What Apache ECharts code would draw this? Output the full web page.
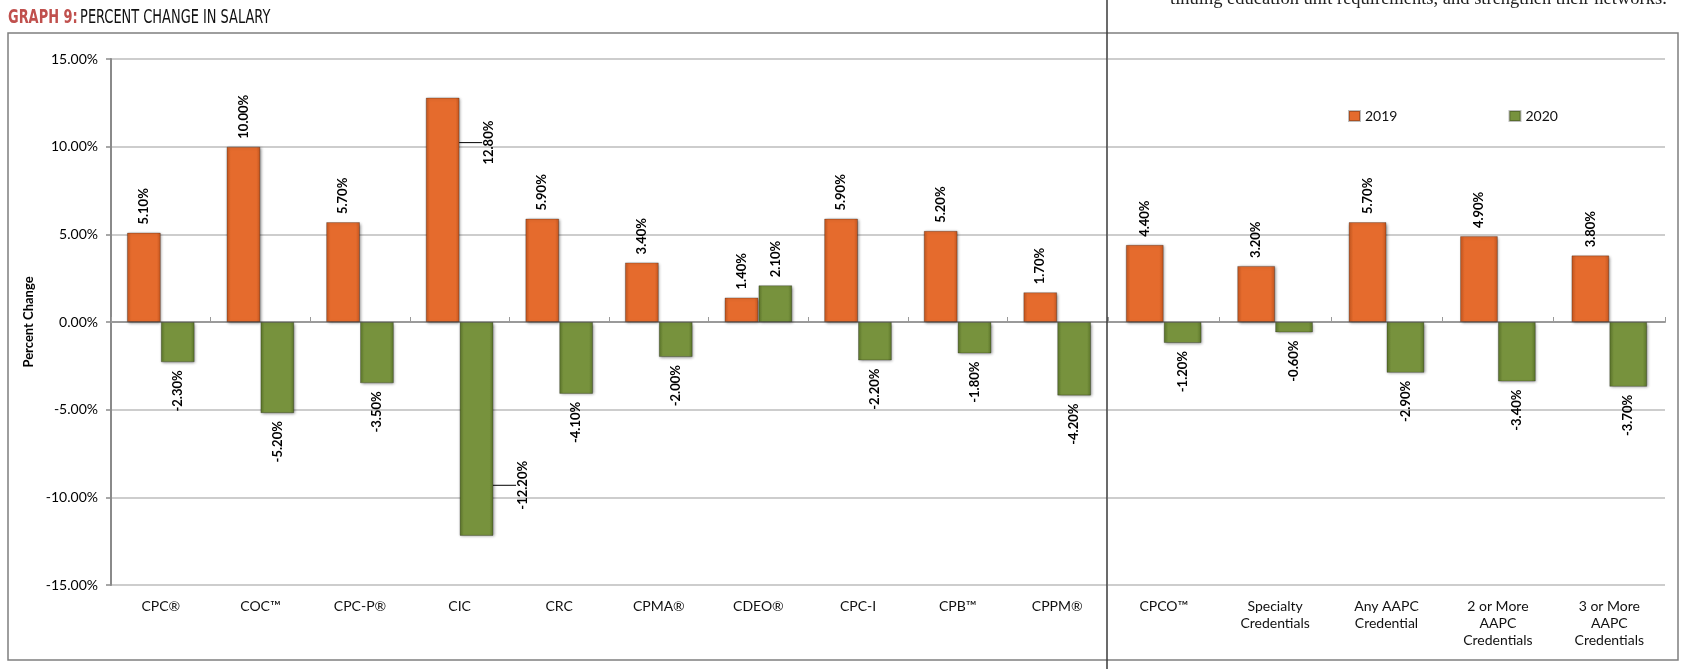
<!DOCTYPE html>
<html>
<head>
<meta charset="utf-8">
<title>Graph 9: Percent Change in Salary</title>
<script src="https://cdn.jsdelivr.net/npm/echarts@6/dist/echarts.min.js"></script>
<style>
  html, body { margin: 0; padding: 0; background: #fff; }
  #chart { width: 1685px; height: 669px; }
</style>
</head>
<body>
<div id="chart"></div>
<script>
// credentials, left block and right (combined) block
const credCats = ['CPC®', 'COC™', 'CPC-P®', 'CIC', 'CRC', 'CPMA®', 'CDEO®', 'CPC-I', 'CPB™', 'CPPM®'];
const comboCats = ['CPCO™', 'Specialty\nCredentials', 'Any AAPC\nCredential', '2 or More\nAAPC\nCredentials', '3 or More\nAAPC\nCredentials'];

// percent change
const cred2019 = [5.1, 10.0, 5.7, 12.8, 5.9, 3.4, 1.4, 5.9, 5.2, 1.7];
const cred2020 = [-2.3, -5.2, -3.5, -12.2, -4.1, -2.0, 2.1, -2.2, -1.8, -4.2];
const combo2019 = [4.4, 3.2, 5.7, 4.9, 3.8];
const combo2020 = [-1.2, -0.6, -2.9, -3.4, -3.7];

const yTicks = { min: -15, max: 15, interval: 5 };

const font = 'Lato, "Open Sans", sans-serif';
const narrow = '"Liberation Sans Narrow", "DejaVu Sans Condensed", "Noto Sans", sans-serif';

function barFill(edge, mid) {
  return new echarts.graphic.LinearGradient(0, 0, 1, 0, [
    { offset: 0, color: edge },
    { offset: 0.12, color: mid },
    { offset: 0.88, color: mid },
    { offset: 1, color: edge }
  ]);
}
const orange = barFill('#c4561f', '#e56b2d');
const green = barFill('#5b752a', '#77923d');

// label above positive bars, below negative ones; CIC gets a leader line
function toItems(vals, leaderIdx) {
  return vals.map((v, i) => {
    const item = {
      value: v,
      label: v >= 0
        ? { position: 'top', align: 'left' }
        : { position: 'bottom', align: 'right' }
    };
    if (i === leaderIdx) {
      item.labelLine = { show: true, lineStyle: { color: '#000', width: 1 } };
    }
    return item;
  });
}

const labelBase = {
  show: true,
  rotate: 90,
  verticalAlign: 'middle',
  distance: 8,
  color: '#000',
  fontFamily: font,
  fontWeight: 'bold',
  fontSize: 13,
  formatter: p => p.value.toFixed(2) + '%'
};

function barSeries(name, vals, fill, axisIdx, extra) {
  return Object.assign({
    name: name,
    type: 'bar',
    xAxisIndex: axisIdx,
    yAxisIndex: axisIdx === 0 ? 0 : 1,
    barWidth: '34%',
    barGap: '0%',
    data: toItems(vals, -1),
    itemStyle: {
      color: fill,
      borderColor: 'rgba(0,0,0,0.25)',
      borderWidth: 1,
      shadowColor: 'rgba(0,0,0,0.45)',
      shadowBlur: 3,
      shadowOffsetX: 1,
      shadowOffsetY: 1
    },
    label: labelBase,
    labelLine: { show: false }
  }, extra || {});
}

function yAxis(grid, showSide) {
  return {
    type: 'value',
    gridIndex: grid,
    min: yTicks.min,
    max: yTicks.max,
    interval: yTicks.interval,
    name: showSide ? 'Percent Change' : '',
    nameLocation: 'middle',
    nameGap: 74,
    nameTextStyle: { fontFamily: font, fontWeight: 'bold', fontSize: 13, color: '#000' },
    axisLine: { show: showSide, lineStyle: { color: '#8a8a8a', width: 2 } },
    axisTick: { show: showSide, length: 5, lineStyle: { color: '#8a8a8a', width: 1.5 } },
    axisLabel: {
      show: showSide,
      margin: 13,
      fontFamily: font,
      fontSize: 14,
      color: '#000',
      formatter: v => v.toFixed(2) + '%'
    },
    splitLine: { lineStyle: { color: '#bdbdbd', width: 1.5 } }
  };
}

function labelAxis(grid, cats) {
  return {
    type: 'category',
    gridIndex: grid,
    data: cats,
    position: 'bottom',
    axisLine: { show: false, onZero: false },
    axisTick: { show: false },
    axisLabel: {
      margin: 13,
      interval: 0,
      fontFamily: font,
      fontSize: 14,
      lineHeight: 17,
      color: '#111'
    }
  };
}

function zeroAxis(grid, cats) {
  return {
    type: 'category',
    gridIndex: grid,
    data: cats,
    position: 'bottom',
    axisLine: { show: true, onZero: true, lineStyle: { color: '#9a9a9a', width: 2 } },
    axisTick: { show: true, inside: true, length: 5, lineStyle: { color: '#9a9a9a' } },
    axisLabel: { show: false }
  };
}

const chart = echarts.init(document.getElementById('chart'));

chart.setOption({
  backgroundColor: '#fff',
  animation: false,
  graphic: [
    {
      type: 'text',
      x: 8,
      y: 8,
      scaleX: 0.72,
      style: {
        text: '{r|GRAPH 9:} {k|PERCENT CHANGE IN SALARY}',
        rich: {
          r: { fill: '#c0504d', fontSize: 20, fontWeight: 'bold', fontFamily: narrow },
          k: { fill: '#111', fontSize: 20, fontFamily: narrow }
        }
      }
    },
    {
      type: 'text',
      x: 1170,
      y: -10,
      style: {
        text: 'tinuing education unit requirements, and strengthen their networks.',
        fill: '#222',
        font: '18.5px "Liberation Serif", "DejaVu Serif", serif'
      }
    },
    {
      type: 'rect',
      shape: { x: 8, y: 33, width: 1670, height: 627 },
      style: { fill: null, stroke: '#7f7f7f', lineWidth: 1.5 },
      z: -1
    },
    {
      type: 'line',
      shape: { x1: 1107, y1: 0, x2: 1107, y2: 669 },
      style: { stroke: '#3a3a3a', lineWidth: 1.5 },
      z: 100
    }
  ],
  legend: {
    data: ['2019', '2020'],
    left: 1343,
    top: 104,
    icon: 'rect',
    itemWidth: 11,
    itemHeight: 10,
    itemGap: 111,
    textStyle: { fontFamily: font, fontSize: 14, color: '#111' }
  },
  grid: [
    { left: 111, right: 578, top: 59, bottom: 84 },
    { left: 1108, right: 20, top: 59, bottom: 84 }
  ],
  xAxis: [
    labelAxis(0, credCats),
    zeroAxis(0, credCats),
    labelAxis(1, comboCats),
    zeroAxis(1, comboCats)
  ],
  yAxis: [yAxis(0, true), yAxis(1, false)],
  series: [
    // label offsets are in the rotated frame: dx runs up the page, dy to the right
    barSeries('2019', cred2019, orange, 0, {
      data: toItems(cred2019, 3),
      labelLayout: p => (p.dataIndex === 3 ? { dx: -75, dy: 46 } : null)
    }),
    barSeries('2020', cred2020, green, 0, {
      data: toItems(cred2020, 3),
      labelLayout: p => (p.dataIndex === 3 ? { dx: 83, dy: 46 } : null)
    }),
    barSeries('2019', combo2019, orange, 2),
    barSeries('2020', combo2020, green, 2)
  ]
});
</script>
</body>
</html>
